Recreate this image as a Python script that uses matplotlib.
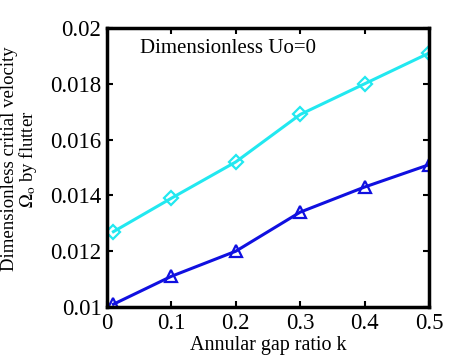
import matplotlib
matplotlib.use('Agg')
import matplotlib.pyplot as plt

plt.rcParams['font.family'] = ['Liberation Serif', 'DejaVu Serif']
plt.rcParams['mathtext.fontset'] = 'stix'

k = [0.01, 0.1, 0.2, 0.3, 0.4, 0.5]
omega_cyan = [0.0127, 0.0139, 0.0152, 0.0169, 0.0180, 0.0191]
omega_blue = [0.0101, 0.0111, 0.0120, 0.0134, 0.0143, 0.0151]
xticks = [0, 0.1, 0.2, 0.3, 0.4, 0.5]
xticklabels = ['0', '0.1', '0.2', '0.3', '0.4', '0.5']
yticks = [0.01, 0.012, 0.014, 0.016, 0.018, 0.02]
yticklabels = ['0.01', '0.012', '0.014', '0.016', '0.018', '0.02']

fig = plt.figure(figsize=(4.74, 3.57), dpi=100)
ax = fig.add_axes([107/474, 1 - 307/357, (429-107)/474, (307-28)/357])

ax.plot(k, omega_cyan, color='#22e8f0', lw=2.2, marker='D', ms=7,
        mfc='none', mew=1.6)
ax.plot(k, omega_blue, color='#1010e0', lw=2.2, marker='^', ms=8,
        mfc='none', mew=1.6)

ax.set_xlim(0, 0.5)
ax.set_ylim(0.01, 0.02)
ax.set_xticks(xticks)
ax.set_xticklabels(xticklabels)
ax.set_yticks(yticks)
ax.set_yticklabels(yticklabels)
ax.tick_params(direction='in', length=4, width=1.5, labelsize=16.5,
               top=True, right=True, pad=4)
for s in ax.spines.values():
    s.set_linewidth(2.5)

ax.text(0.052, 0.01925, 'Dimensionless Uo=0', fontsize=15, va='center')
ax.set_xlabel('Annular gap ratio k', fontsize=14.5, labelpad=2)
ax.set_ylabel('Dimensionless critial velocity\n$\\Omega_{\\mathrm{o}}$ by flutter',
              fontsize=13.5, linespacing=0.95)
ax.yaxis.set_label_coords(-0.212, 0.53)

fig.savefig('out.png', dpi=100)
